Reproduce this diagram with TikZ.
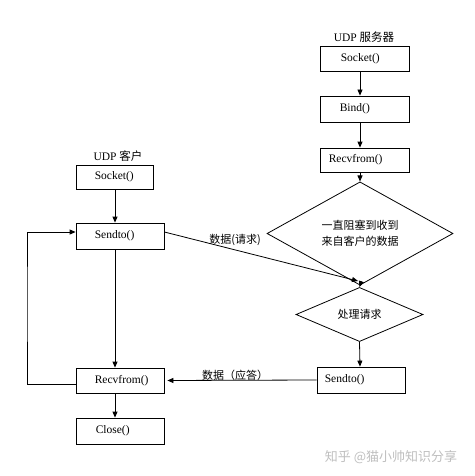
\documentclass[tikz,border=0pt]{standalone}
\usepackage{fontspec}
\setmainfont{Liberation Serif}
\newfontfamily\cjk{Noto Sans CJK SC}
\usetikzlibrary{shapes.geometric,arrows.meta}
\begin{document}
\begin{tikzpicture}[x=1pt,y=-1pt,
 box/.style={draw, line width=0.8pt, inner sep=0, minimum width=88pt, minimum height=25pt},
 lbl/.style={anchor=west, inner sep=0, font=\fontsize{11.5}{13}\selectfont},
 ttl/.style={inner sep=0, font=\fontsize{11.5}{13}\selectfont},
 dia/.style={draw, diamond, line width=0.8pt, inner sep=0, align=center, font=\cjk\fontsize{11}{16}\selectfont},
 cn/.style={inner sep=0, font=\cjk\fontsize{11}{13}\selectfont},
 arr/.style={-{Triangle[length=6pt,width=5pt]}, line width=0.8pt}]
\useasboundingbox (0,0) rectangle (474,476);
\fill[white] (0,0) rectangle (474,476);
% server
\node[ttl] (st) at (364,37) {UDP {\cjk 服务器}};
\node[box, minimum width=89pt] (sSock) at (364.5,58.5) {};
\node[lbl] (sSockL) at ([xshift=21pt]sSock.west) {Socket()};
\node[box, minimum width=89pt, minimum height=26pt] (sBind) at (364.5,109) {};
\node[lbl] (sBindL) at ([xshift=20pt]sBind.west) {Bind()};
\node[box, minimum width=89pt, minimum height=24pt] (sRecv) at (364.5,160) {};
\node[lbl] (sRecvL) at ([xshift=9pt]sRecv.west) {Recvfrom()};
\node[dia, minimum width=186pt, minimum height=67pt] (d1) at (360,233.5) {一直阻塞到收到\\来自客户的数据};
\node[dia, minimum width=127pt, minimum height=35pt] (d2) at (359.5,314.5) {处理请求};
\node[box, minimum height=26pt] (sSend) at (361,380) {};
\node[lbl] (sSendL) at ([xshift=8pt]sSend.west) {Sendto()};
% client
\node[ttl] (ct) at (118,156) {UDP {\cjk 客户}};
\node[box, minimum width=77pt, minimum height=24pt] (cSock) at (114.5,177) {};
\node[lbl] (cSockL) at ([xshift=19pt]cSock.west) {Socket()};
\node[box, minimum height=26pt] (cSend) at (120,236) {};
\node[lbl] (cSendL) at ([xshift=19pt]cSend.west) {Sendto()};
\node[box] (cRecv) at (120,380.5) {};
\node[lbl] (cRecvL) at ([xshift=19pt]cRecv.west) {Recvfrom()};
\node[box, minimum height=26pt] (cClose) at (120,431) {};
\node[lbl] (cCloseL) at ([xshift=20pt]cClose.west) {Close()};
% axes
\coordinate (sx) at (360,0);
\coordinate (cx) at (115,0);
\coordinate (rq) at (358,281);
\coordinate (lp) at (27,300);
% server arrows
\draw[arr] (sSock.south -| sx) -- (sBind.north -| sx);
\draw[arr] (sBind.south -| sx) -- (sRecv.north -| sx);
\draw[arr] (sRecv.south -| sx) -- (d1.north);
\draw[arr] (d1.south) -- (d2.north);
\draw[arr] (d2.south) -- (sSend.north -| sx);
% client arrows
\draw[arr] (cSock.south -| cx) -- (cSend.north -| cx);
\draw[arr] (cSend.south -| cx) -- (cRecv.north -| cx);
\draw[arr] (cRecv.south -| cx) -- (cClose.north -| cx);
\draw[arr] ([yshift=-3.5pt]cRecv.west) -| (lp) |- ([yshift=4pt]cSend.west);
% messages
\draw[arr] ([yshift=4pt]cSend.east) -- (rq);
\node[cn] (lq) at (235,240) {数据(请求)};
\draw[arr, shorten >=3pt] (sSend.west) -- (cRecv.east);
\node[cn] (la) at (235,375) {数据（应答）};
% watermark
\node[inner sep=0, text=black!25, font=\cjk\fontsize{13}{15}\selectfont] (wm) at (391,457) {知乎 @猫小帅知识分享};
\end{tikzpicture}
\end{document}
